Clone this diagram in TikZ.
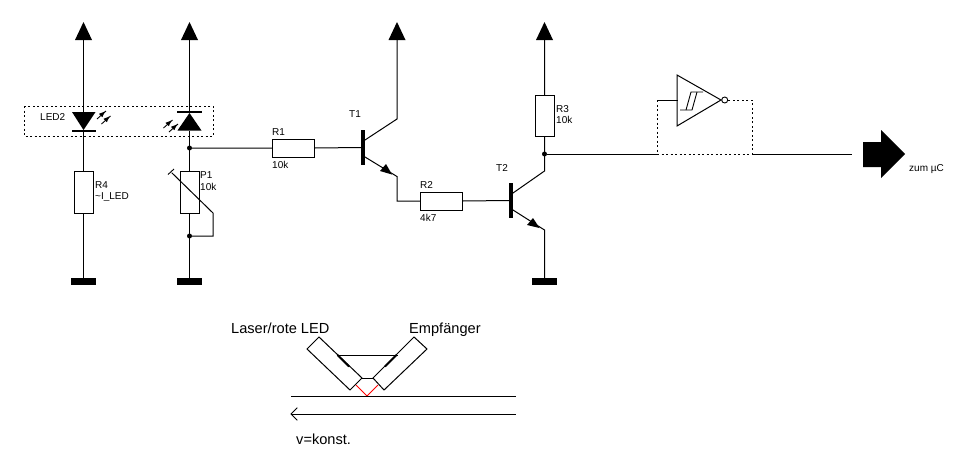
\documentclass[tikz,border=0pt]{standalone}
\usepackage{fontspec}
\setmainfont{Liberation Sans}
\tikzset{
  wire/.style={line width=1pt,line cap=rect},
  thin wire/.style={line width=0.9pt},
  dotwire/.style={line width=1pt,dash pattern=on 2pt off 2.5pt},
  resh/.style={draw,line width=1pt,fill=white,rectangle,inner sep=0pt,minimum width=42pt,minimum height=18pt},
  resv/.style={draw,line width=1pt,fill=white,rectangle,inner sep=0pt,minimum width=19pt,minimum height=42pt},
  gndbar/.style={fill=black,rectangle,inner sep=0pt,minimum width=25pt,minimum height=7pt},
  tbase/.style={fill=black,rectangle,inner sep=0pt,minimum width=4.5pt,minimum height=35pt},
  dotjoin/.style={fill=black,circle,inner sep=0pt,minimum size=5pt},
  lab/.style={anchor=base west,inner sep=0pt,font=\fontsize{10}{11}\selectfont},
  biglab/.style={anchor=base west,inner sep=0pt,font=\fontsize{14.6}{17}\selectfont},
  supply/.pic={\fill (-8.5,0) -- (8.5,0) -- (0,-18) -- cycle;},
  lightray/.pic={\draw[line width=0.9pt] (-4.5,4) -- (4.5,-4);\fill (3.5,-3.5) -- (-2.5,-1.2) -- (0.8,2.2) -- cycle;}
}
\begin{document}
\begin{tikzpicture}[x=1pt,y=-1pt]
\useasboundingbox[fill=white] (0,0) rectangle (973,472);
% supplies
\coordinate (s1) at (83.5,40);
\coordinate (s2) at (189.5,40);
\coordinate (s3) at (397,40);
\coordinate (s4) at (544.5,40);
\foreach \n in {s1,s2,s3,s4} \pic at (\n) {supply};
% grounds
\node[gndbar] (g1) at (83.5,281.5) {};
\node[gndbar] (g2) at (189.5,281.5) {};
\node[gndbar] (g3) at (544.5,281.5) {};
% dashed optocoupler box
\draw[dotwire] (24,106) rectangle (213,136);
% resistors
\node[resv] (r4) at (83.5,192) {};
\node[resv] (p1) at (189.5,192) {};
\node[resh] (r1) at (293,148) {};
\node[resh] (r2) at (441,201) {};
\node[resv,minimum height=41pt] (r3) at (544.5,115.5) {};
% diode coordinates
\coordinate (la) at (83.5,112);
\coordinate (lb) at (83.5,131);
\coordinate (pa) at (189.5,112);
\coordinate (pb) at (189.5,131);
\node[dotjoin] (j1) at (189.5,148) {};
\node[dotjoin] (j2) at (189.5,236) {};
\node[dotjoin] (j3) at (544.5,154) {};
% transistors
\node[tbase] (t1) at (363,147.5) {};
\node[tbase] (t2) at (511,200.5) {};
\coordinate (t1c) at (365,140);
\coordinate (t1k) at (397,119);
\coordinate (t1e) at (365,157);
\coordinate (t1f) at (397,176.5);
\coordinate (t1g) at (397,201);
\coordinate (t2c) at (513,193);
\coordinate (t2k) at (544.5,171);
\coordinate (t2e) at (513,210);
\coordinate (t2f) at (544.5,230);
% wires
\draw[wire] (s1) -- (la) (lb) -- (r4.north) (r4.south) -- (g1.north);
\draw[wire] (s2) -- (pa) (pb) -- (j1) -- (p1.north) (p1.south) -- (j2) -- (g2.north);
\draw[wire] (j1) -- (r1.west) (r1.east) -- (t1.west);
\draw[wire] (t1c) -- (t1k) -- (s3);
\draw[wire] (t1e) -- (t1f) -- (t1g) -- (r2.west) (r2.east) -- (t2.west);
\draw[wire] (t2c) -- (t2k) -- (j3) -- (r3.south) (r3.north) -- (s4);
\draw[wire] (t2e) -- (t2f) -- (g3.north);
% emitter arrowheads
\fill (392,174.5) -- (380,171) -- (386,164) -- cycle;
\fill (539.5,228) -- (527,225) -- (533,218) -- cycle;
% LED
\fill (72,112) -- (95.5,112) -- (83.5,130) -- cycle;
\fill (71.5,130) rectangle (96,132);
\pic at (101.5,115) {lightray};
\pic at (106,120) {lightray};
% photodiode
\fill (177,111) rectangle (202,113);
\fill (177.5,130.5) -- (201.5,130.5) -- (189.5,113) -- cycle;
\pic at (168,124) {lightray};
\pic at (173.5,128) {lightray};
% potentiometer
\coordinate (pw) at (213,213);
\coordinate (pk) at (213,236);
\draw[wire] (172,173) -- (pw) -- (pk) -- (j2);
\draw[thin wire] (168,174.5) -- (174,169);
% Schmitt trigger
\coordinate (si) at (657,100);
\coordinate (sb) at (657,154);
\coordinate (so) at (752,100);
\coordinate (sc) at (752,154);
\coordinate (tip) at (721,100);
\coordinate (ti) at (677,100);
\node[draw,circle,inner sep=0pt,minimum size=6pt,line width=0.9pt] (bub) at (724.7,100) {};
\draw[wire] (ti) -- (si);
\draw[wire] (677,75) -- (677,126) -- (tip) -- cycle;
\draw[thin wire] (680,110) -- (692,110) -- (697,92);
\draw[thin wire] (686,110) -- (691,92) -- (703,92);
\draw[dotwire] (si) -- (sb) -- (sc) -- (so) -- (bub.east);
\draw[wire] (j3) -- (sb);
\coordinate (out) at (851,154);
\draw[wire] (sc) -- (out);
\fill (863,142) -- (881,142) -- (881,130) -- (905,154) -- (881,178) -- (881,167) -- (863,167) -- cycle;
% labels
\node[lab] (tled) at (40,120) {LED2};
\node[lab] (tr4) at (95,188) {R4};
\node[lab] (tr4v) at (95,199) {\~{}I\_LED};
\node[lab] (tp1) at (200,178) {P1};
\node[lab] (tp1v) at (200,190) {10k};
\node[lab] (tr1) at (272,135) {R1};
\node[lab] (tr1v) at (272,168) {10k};
\node[lab] (tt1) at (349,117) {T1};
\node[lab] (tr2) at (420,188) {R2};
\node[lab] (tr2v) at (420,221) {4k7};
\node[lab] (tt2) at (496,171) {T2};
\node[lab] (tr3) at (556,112) {R3};
\node[lab] (tr3v) at (556,123) {10k};
\node[lab] (tz) at (909,171) {zum µC};
% lower sketch
\draw[wire] (307,349) -- (319,337) -- (362,378) -- (350,390) -- cycle;
\draw[wire] (427,349) -- (414,337) -- (373,378) -- (384,390) -- cycle;
\draw[wire] (337,355) -- (397,355);
\draw[wire] (362,378) -- (373,378);
\draw[line width=1.8pt] (337.5,355) -- (349,366.5);
\draw[line width=1.8pt] (396.5,355) -- (385,366.5);
\draw[red,line width=1pt] (356,385) -- (367,396) -- (378,385);
\draw[wire] (291,396) -- (515,396);
\draw[wire] (515,414) -- (291,414);
\draw[wire] (297,408) -- (291,414) -- (297,420);
\node[biglab] (tl) at (231,333) {Laser/rote LED};
\node[biglab] (te) at (409,333) {Empfänger};
\node[biglab] (tv) at (296,444) {v=konst.};
\end{tikzpicture}
\end{document}
